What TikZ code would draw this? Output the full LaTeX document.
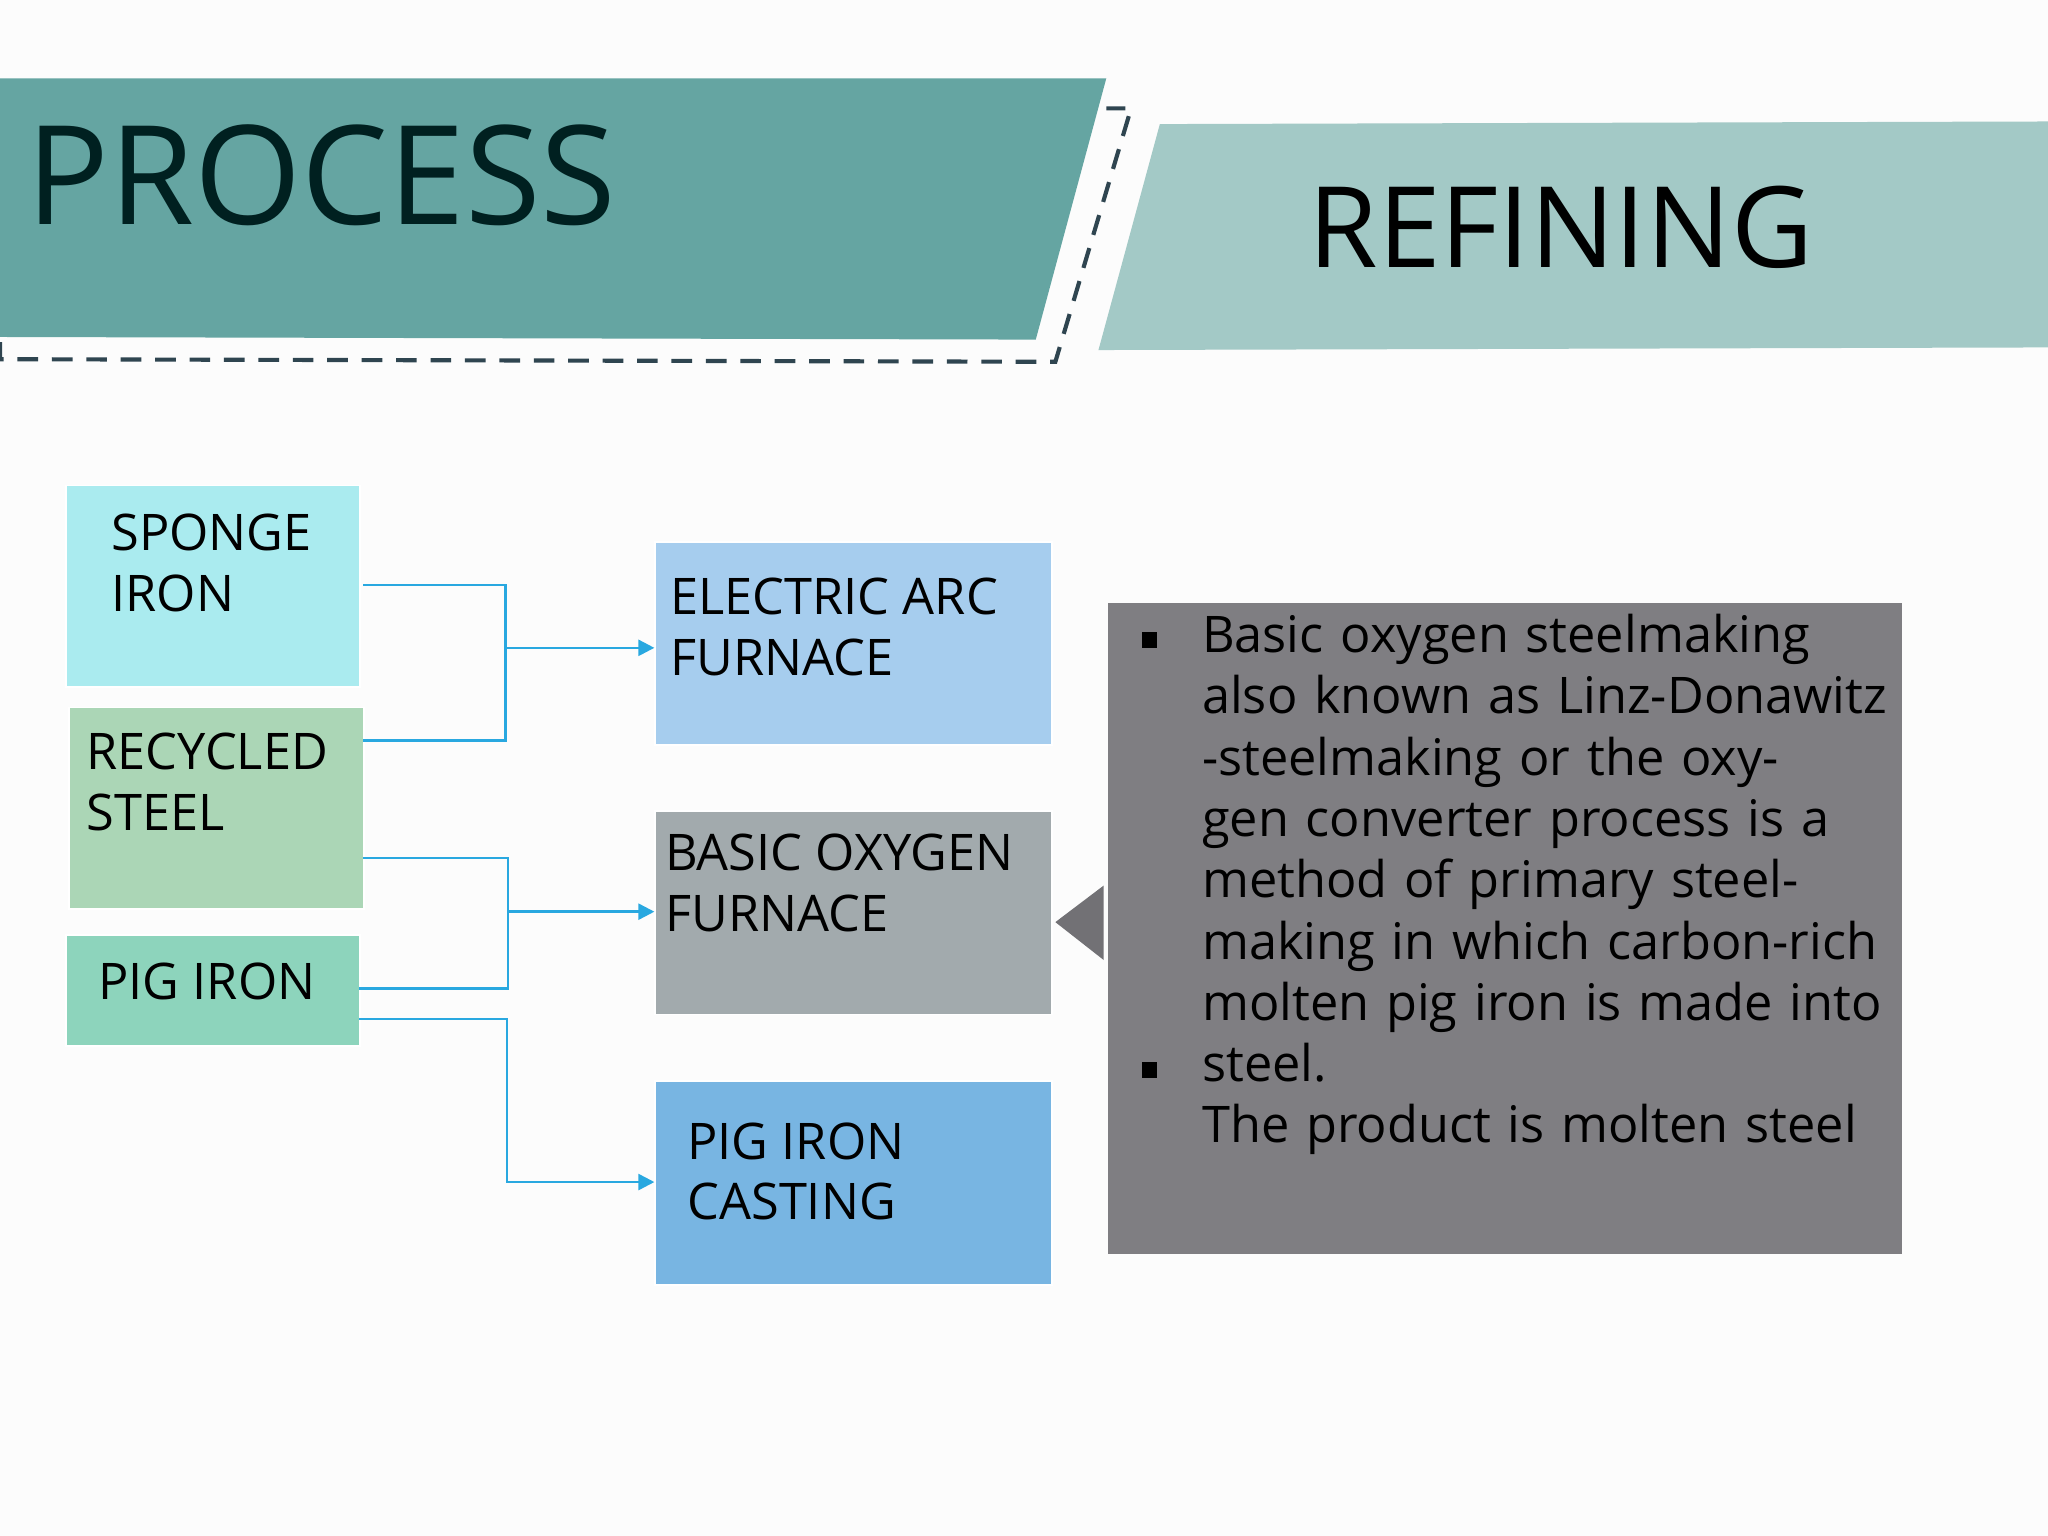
\documentclass[tikz,border=0pt]{standalone}
\usepackage{fontspec}
\setmainfont{Open Sans}
\usetikzlibrary{arrows.meta}
\definecolor{dteal}{HTML}{65A5A2}
\definecolor{lteal}{HTML}{A3C9C6}
\definecolor{dashc}{HTML}{2F4550}
\definecolor{conn}{HTML}{29A8E0}
\definecolor{graybox}{HTML}{7F7E82}
\definecolor{cs}{HTML}{AAEBEF}
\definecolor{cr}{HTML}{ABD6B6}
\definecolor{cp}{HTML}{8DD4BC}
\definecolor{ce}{HTML}{A6CDEE}
\definecolor{cb}{HTML}{A2AAAD}
\definecolor{cc}{HTML}{78B5E2}
\tikzset{
 box/.style={draw=white,line width=0.8pt,anchor=north west,inner sep=0pt},
 lbl/.style={anchor=north west,align=left,font=\fontsize{22}{26.5}\selectfont,inner sep=0pt},
 con/.style={draw=conn,line width=1.1pt},
 arr/.style={con,-{Triangle[length=7pt,width=7pt]}}
}
\begin{document}
\begin{tikzpicture}[x=0.02cm,y=-0.02cm]
\fill[white!98!gray] (0,0) rectangle (1568,1176);
\useasboundingbox (0,0) rectangle (1568,1176);
% banners
\fill[dteal] (0,60) -- (847,60) -- (793,260) -- (0,258) -- cycle;
\draw[dashc,line width=1.8pt,dash pattern=on 9pt off 6pt] (0,262) -- (0,275) -- (808,277) -- (866,83) -- (847,83);
\fill[lteal] (888,95) -- (1568,93) -- (1568,266) -- (841,268) -- cycle;
\node[anchor=west,text=black!75!teal,font=\fontsize{60}{60}\selectfont,inner sep=0pt] (proc) at (20,134) {PROCESS};
\node[font=\fontsize{49}{49}\selectfont,inner sep=0pt] (ref) at (1195,174) {REFINING};
% left boxes
\node[box,fill=cs,minimum width=225*0.02cm,minimum height=154*0.02cm] (sponge) at (50,371) {};
\node[box,fill=cr,minimum width=226*0.02cm,minimum height=154*0.02cm] (recyc) at (52,541) {};
\node[box,fill=cp,minimum width=225*0.02cm,minimum height=85*0.02cm] (pig) at (50,715) {};
\node[lbl] at (85,393) {SPONGE\\IRON};
\node[lbl] at (66,561) {RECYCLED\\STEEL};
\node[lbl] at (75,737) {PIG IRON};
% right boxes
\node[box,fill=ce,minimum width=304*0.02cm,minimum height=156*0.02cm] (eaf) at (501,414) {};
\node[box,fill=cb,minimum width=304*0.02cm,minimum height=156*0.02cm] (bof) at (501,620) {};
\node[box,fill=cc,minimum width=304*0.02cm,minimum height=156*0.02cm] (cast) at (501,827) {};
\node[lbl] at (513,442) {ELECTRIC ARC\\FURNACE};
\node[lbl] at (509,638) {BASIC OXYGEN\\FURNACE};
\node[lbl] at (526,859) {PIG IRON\\CASTING};
% connectors
\coordinate (j1) at (387,496);
\coordinate (j2) at (389,698);
\draw[con] (278,448) -| (j1);
\draw[con] (278,567) -| (j1);
\draw[arr] (j1) -- (eaf.west |- j1);
\draw[con] (278,657) -| (j2);
\draw[con] (275,757) -| (j2);
\draw[arr] (j2) -- (bof.west |- j2);
\coordinate (j3) at (388,905);
\draw[arr] (275,780) -| (j3) -- (cast.west |- j3);
% text box
\node[anchor=north west,fill=graybox,minimum width=608*0.02cm,minimum height=499*0.02cm,inner sep=0pt] (txt) at (848,461) {};
\fill[graybox!90!black] (808,706) -- (845,678) -- (845,735) -- cycle;
\node[anchor=north west,inner sep=0pt,text width=530*0.02cm,align=left,font=\fontsize{22}{26.7}\selectfont] at (920,470) {Basic oxygen steelmaking also known as Linz-Donawitz -steelmaking or the oxygen converter process is a method of primary steelmaking in which carbon-rich molten pig iron is made into steel.\\The product is molten steel};
\fill[black] (874,484) rectangle (886,496);
\fill[black] (874,813) rectangle (886,825);
\end{tikzpicture}
\end{document}
